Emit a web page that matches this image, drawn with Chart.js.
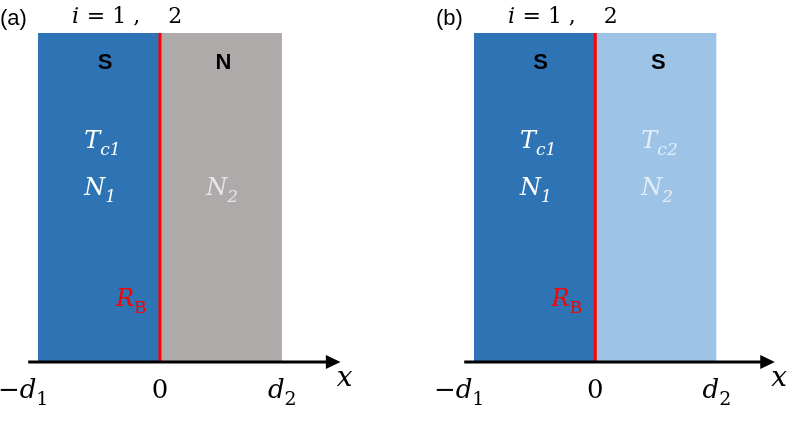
<!DOCTYPE html>
<html><head><meta charset="utf-8">
<script src="https://cdn.jsdelivr.net/npm/chart.js@4"></script>
<style>
body{margin:0;background:#fff;width:795px;height:422px;overflow:hidden;display:flex}
.box{width:397px;height:422px;position:relative}
</style></head><body>
<div class="box"><canvas id="ca"></canvas></div>
<div class="box"><canvas id="cb"></canvas></div>
<script>
// layer boundaries in units of thickness: -d1 .. 0 .. d2
const bounds = [-1, 0, 1];
const panelNames = ["(a)", "(b)"];
const layerTypes = [["S", "N"], ["S", "S"]];
const layerColors = [["#2e74b5", "#aeaaaa"], ["#2e74b5", "#9dc3e6"]];
const tickLabels = ["−d₁", "0", "d₂"];

function italic(ctx, parts, x, y, size, color) {
  // parts: [text, subscript]
  ctx.fillStyle = color;
  ctx.textAlign = "left";
  ctx.textBaseline = "alphabetic";
  ctx.font = "italic " + size + "px 'DejaVu Serif'";
  ctx.fillText(parts[0], x, y);
  const w = ctx.measureText(parts[0]).width;
  ctx.font = (parts[2] ? "" : "italic ") + Math.round(size * 0.72) + "px 'DejaVu Serif'";
  ctx.fillText(parts[1], x + w, y + size * 0.28);
}

function makeChart(id, p, xr) {
  const cols = layerColors[p];
  const overlay = {
    id: "overlay",
    afterDatasetsDraw(chart) {
      const ctx = chart.ctx, xs = chart.scales.x, ys = chart.scales.y;
      const X = v => xs.getPixelForValue(v), Y = v => ys.getPixelForValue(v);
      ctx.save();
      // red boundary
      ctx.strokeStyle = "#ff0000"; ctx.lineWidth = 3;
      ctx.beginPath(); ctx.moveTo(X(0), Y(1)); ctx.lineTo(X(0), Y(0)); ctx.stroke();
      // axis arrow
      ctx.strokeStyle = "#000"; ctx.lineWidth = 3;
      ctx.beginPath(); ctx.moveTo(X(-1.08), Y(0)); ctx.lineTo(X(1.4), Y(0)); ctx.stroke();
      ctx.fillStyle = "#000";
      ctx.beginPath(); ctx.moveTo(X(1.48), Y(0)); ctx.lineTo(X(1.36), Y(0) - 7);
      ctx.lineTo(X(1.36), Y(0) + 7); ctx.closePath(); ctx.fill();
      // tick labels
      ctx.font = "italic 26px 'DejaVu Serif'";
      ctx.textBaseline = "alphabetic";
      italic(ctx, ["−d", "1", true], X(-1) - 40, Y(0) + 36, 26, "#000");
      ctx.font = "26px 'DejaVu Serif'"; ctx.textAlign = "center";
      ctx.fillText(tickLabels[1], X(0), Y(0) + 36);
      italic(ctx, ["d", "2", true], X(1) - 14, Y(0) + 36, 26, "#000");
      ctx.font = "italic 28px 'DejaVu Serif'"; ctx.textAlign = "left";
      ctx.fillText("x", X(1.45), Y(0) + 24);
      // panel label
      ctx.font = "22px 'Liberation Sans'"; ctx.fillStyle = "#000";
      ctx.fillText(panelNames[p], X(-1) - 38, Y(1) - 8);
      ctx.font = "italic 22px 'DejaVu Serif'";
      ctx.fillText("i", X(-0.72), Y(1) - 10);
      ctx.font = "22px 'DejaVu Serif'";
      ctx.fillText("= 1 ,    2", X(-0.6), Y(1) - 10);
      // layer letters
      ctx.font = "bold 22px 'Liberation Sans'"; ctx.textAlign = "center";
      ctx.fillText(layerTypes[p][0], X(-0.45), Y(1) + 36);
      ctx.fillText(layerTypes[p][1], X(0.52), Y(1) + 36);
      // parameters
      italic(ctx, ["T", "c1"], X(-0.62), Y(1) + 115, 24, "#fff");
      italic(ctx, ["N", "1"], X(-0.62), Y(1) + 162, 24, "#fff");
      const c2 = p === 0 ? "#e6e6e6" : "#e3eef9";
      if (p === 1) italic(ctx, ["T", "c2"], X(0.38), Y(1) + 115, 24, c2);
      italic(ctx, ["N", "2"], X(0.38), Y(1) + 162, 24, c2);
      italic(ctx, ["R", "B", true], X(-0.36), Y(1) + 273, 24, "#ff0000");
      ctx.restore();
    }
  };
  return new Chart(document.getElementById(id), {
    type: "line",
    data: {
      datasets: [
        { data: [{x: bounds[0], y: 1}, {x: bounds[1], y: 1}], fill: "origin",
          backgroundColor: cols[0], borderWidth: 0, pointRadius: 0 },
        { data: [{x: bounds[1], y: 1}, {x: bounds[2], y: 1}], fill: "origin",
          backgroundColor: cols[1], borderWidth: 0, pointRadius: 0 }
      ]
    },
    options: {
      responsive: false, animation: false,
      layout: {padding: 0},
      plugins: {legend: {display: false}, tooltip: {enabled: false}},
      scales: {
        x: {type: "linear", display: false, min: xr[0], max: xr[1]},
        y: {display: false, min: -0.182, max: 1.1}
      }
    },
    plugins: [overlay]
  });
}
for (const id of ["ca", "cb"]) {
  const c = document.getElementById(id); c.width = 397; c.height = 422;
}
makeChart("ca", 0, [-1.311, 1.943]);
makeChart("cb", 1, [-1.634, 1.638]);
</script></body></html>
